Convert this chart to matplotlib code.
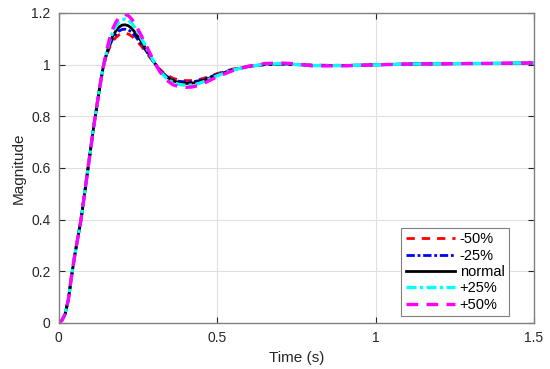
import matplotlib.pyplot as plt

# time axis (s)
t = [0, 0.01, 0.02, 0.03, 0.04, 0.05, 0.06, 0.07, 0.08, 0.09, 0.10, 0.11, 0.12, 0.13, 0.14,
     0.15, 0.16, 0.17, 0.18, 0.19, 0.20, 0.21, 0.22, 0.23, 0.24, 0.26, 0.28, 0.30, 0.32, 0.34,
     0.36, 0.38, 0.40, 0.42, 0.44, 0.46, 0.48, 0.50, 0.55, 0.60, 0.65, 0.70, 0.75, 0.80, 0.90,
     1.00, 1.10, 1.20, 1.30, 1.40, 1.50]

rise = [0, 0.01, 0.035, 0.09, 0.18, 0.26, 0.33, 0.40, 0.49, 0.58, 0.67, 0.76, 0.84, 0.92, 0.99]
tail = [0.999, 1.002, 1.003, 1.004, 1.005, 1.006]

m_minus50 = rise + [1.035, 1.065, 1.09, 1.105, 1.115, 1.12, 1.121, 1.118, 1.11, 1.10, 1.072, 1.04,
                    1.008, 0.98, 0.96, 0.947, 0.94, 0.938, 0.938, 0.941, 0.948, 0.956, 0.965,
                    0.983, 0.994, 1.0, 1.001, 1.0, 0.998, 0.997] + tail
m_minus25 = rise + [1.037, 1.072, 1.10, 1.117, 1.13, 1.136, 1.137, 1.134, 1.125, 1.112, 1.08, 1.045,
                    1.009, 0.977, 0.955, 0.941, 0.935, 0.933, 0.933, 0.937, 0.944, 0.953, 0.963,
                    0.981, 0.993, 1.0, 1.002, 1.0, 0.997, 0.996] + tail
m_normal = rise + [1.04, 1.08, 1.11, 1.13, 1.145, 1.153, 1.154, 1.15, 1.14, 1.125, 1.09, 1.05,
                   1.01, 0.975, 0.952, 0.937, 0.93, 0.927, 0.928, 0.932, 0.94, 0.95, 0.96,
                   0.98, 0.993, 1.0, 1.002, 1.0, 0.997, 0.996] + tail
m_plus25 = rise + [1.045, 1.09, 1.125, 1.148, 1.165, 1.174, 1.176, 1.171, 1.16, 1.143, 1.103, 1.057,
                   1.011, 0.972, 0.947, 0.93, 0.923, 0.92, 0.921, 0.926, 0.935, 0.946, 0.957,
                   0.979, 0.993, 1.001, 1.003, 1.0, 0.996, 0.996] + tail
m_plus50 = rise + [1.05, 1.10, 1.138, 1.164, 1.183, 1.192, 1.194, 1.189, 1.176, 1.158, 1.113, 1.063,
                   1.013, 0.97, 0.94, 0.922, 0.914, 0.912, 0.913, 0.919, 0.929, 0.941, 0.953,
                   0.977, 0.994, 1.004, 1.006, 1.003, 0.995, 0.995] + tail

labels = ['-50%', '-25%', 'normal', '+25%', '+50%']
series = [m_minus50, m_minus25, m_normal, m_plus25, m_plus50]
colors = ['#ff0000', '#0000ff', '#000000', '#00ffff', '#ff00ff']
styles = [(0, (3, 2.5)), (0, (3, 1, 1, 1)), '-', (0, (3, 1, 1, 1)), (0, (3.5, 2.5))]
widths = [2.0, 2.0, 2.0, 2.4, 2.4]

plt.rcParams['font.family'] = ['Liberation Sans', 'DejaVu Sans']

fig = plt.figure(figsize=(5.5, 3.69), dpi=100)
ax = fig.add_axes([0.107, 0.125, 0.864, 0.840])

for y, lab, c, ls, lw in zip(series, labels, colors, styles, widths):
    ax.plot(t, y, color=c, linestyle=ls, linewidth=lw, label=lab)

ax.set_xlim(0, 1.5)
ax.set_ylim(0, 1.2)
ax.set_xticks([0, 0.5, 1, 1.5])
ax.set_xticklabels(['0', '0.5', '1', '1.5'])
ax.set_yticks([0, 0.2, 0.4, 0.6, 0.8, 1.0, 1.2])
ax.set_yticklabels(['0', '0.2', '0.4', '0.6', '0.8', '1', '1.2'])
ax.grid(True, color='#e0e0e0', linewidth=0.8)
ax.tick_params(direction='in', top=True, right=True, length=4, labelsize=10,
               colors='#262626', pad=6)
for s in ax.spines.values():
    s.set_color('#808080')
    s.set_linewidth(1.0)

ax.set_xlabel('Time (s)', fontsize=11, color='#262626')
ax.set_ylabel('Magnitude', fontsize=11, color='#262626')

leg = ax.legend(loc='lower right', bbox_to_anchor=(0.947, 0.022), fontsize=10.5,
                handlelength=3.4, handletextpad=0.3, labelspacing=0.16,
                borderpad=0.3, borderaxespad=0.0, fancybox=False, framealpha=1)
leg.get_frame().set_edgecolor('#808080')
leg.get_frame().set_linewidth(0.8)

fig.savefig('out.png', dpi=100)
